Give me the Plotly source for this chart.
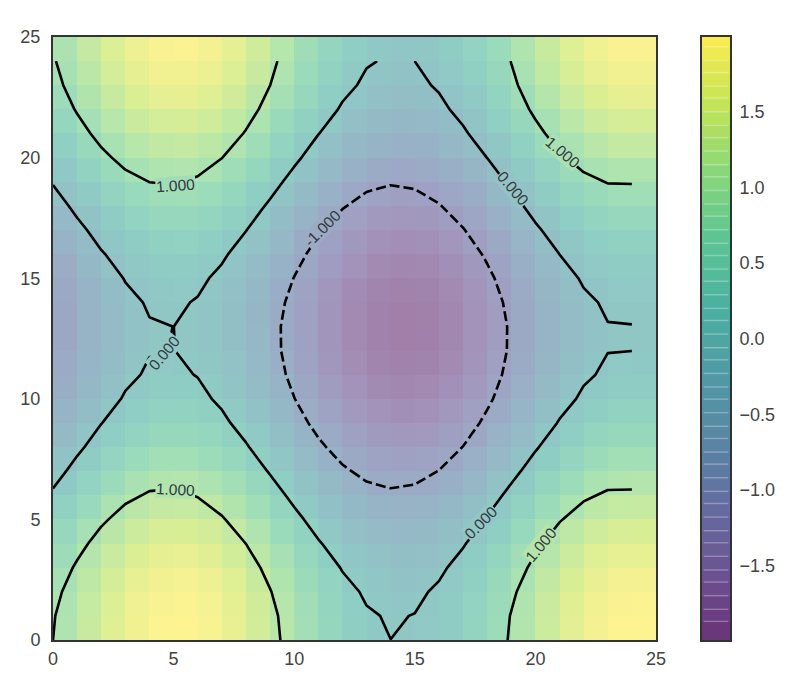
"""Filled grid with contour lines and a banded colour bar (Plotly HTML)."""

import plotly.graph_objects as go
from plotly.colors import sample_colorscale, unlabel_rgb

# one row per y index (0 at the bottom), one column per x index
z_rows = [
    [1.000, 1.327, 1.618, 1.841, 1.972, 1.995, 1.909, 1.723, 1.457, 1.141, 0.810, 0.499, 0.243, 0.070, 0.001, 0.041, 0.186, 0.423, 0.721, 1.050, 1.374, 1.657, 1.867, 1.983, 1.989],
    [0.969, 1.296, 1.587, 1.810, 1.941, 1.964, 1.878, 1.692, 1.426, 1.110, 0.779, 0.468, 0.212, 0.039, -0.030, 0.010, 0.155, 0.392, 0.690, 1.019, 1.343, 1.626, 1.836, 1.952, 1.958],
    [0.878, 1.205, 1.496, 1.719, 1.850, 1.873, 1.787, 1.601, 1.335, 1.019, 0.688, 0.377, 0.121, -0.052, -0.121, -0.081, 0.064, 0.301, 0.599, 0.928, 1.252, 1.535, 1.745, 1.861, 1.867],
    [0.732, 1.059, 1.350, 1.573, 1.704, 1.727, 1.641, 1.455, 1.189, 0.873, 0.542, 0.231, -0.025, -0.198, -0.267, -0.227, -0.082, 0.155, 0.453, 0.782, 1.106, 1.389, 1.599, 1.715, 1.721],
    [0.540, 0.867, 1.158, 1.381, 1.512, 1.535, 1.449, 1.263, 0.997, 0.681, 0.350, 0.039, -0.217, -0.390, -0.459, -0.419, -0.274, -0.037, 0.261, 0.590, 0.914, 1.197, 1.407, 1.523, 1.529],
    [0.315, 0.642, 0.933, 1.156, 1.287, 1.310, 1.224, 1.038, 0.772, 0.456, 0.125, -0.186, -0.442, -0.615, -0.684, -0.644, -0.499, -0.262, 0.036, 0.365, 0.689, 0.972, 1.182, 1.298, 1.304],
    [0.071, 0.398, 0.689, 0.912, 1.043, 1.066, 0.980, 0.794, 0.528, 0.212, -0.119, -0.430, -0.686, -0.859, -0.928, -0.888, -0.743, -0.506, -0.208, 0.121, 0.445, 0.728, 0.938, 1.054, 1.060],
    [-0.178, 0.149, 0.440, 0.663, 0.794, 0.817, 0.731, 0.545, 0.279, -0.037, -0.368, -0.679, -0.935, -1.108, -1.177, -1.137, -0.992, -0.755, -0.457, -0.128, 0.196, 0.479, 0.689, 0.805, 0.811],
    [-0.416, -0.089, 0.202, 0.425, 0.556, 0.579, 0.493, 0.307, 0.041, -0.275, -0.606, -0.917, -1.173, -1.346, -1.415, -1.375, -1.230, -0.993, -0.695, -0.366, -0.042, 0.241, 0.451, 0.567, 0.573],
    [-0.628, -0.301, -0.010, 0.213, 0.344, 0.367, 0.281, 0.095, -0.171, -0.487, -0.818, -1.129, -1.385, -1.558, -1.627, -1.587, -1.442, -1.205, -0.907, -0.578, -0.254, 0.029, 0.239, 0.355, 0.361],
    [-0.801, -0.474, -0.183, 0.040, 0.171, 0.194, 0.108, -0.078, -0.344, -0.660, -0.991, -1.302, -1.558, -1.731, -1.800, -1.760, -1.615, -1.378, -1.080, -0.751, -0.427, -0.144, 0.066, 0.182, 0.188],
    [-0.924, -0.597, -0.306, -0.083, 0.048, 0.071, -0.015, -0.201, -0.467, -0.783, -1.114, -1.425, -1.681, -1.854, -1.923, -1.883, -1.738, -1.501, -1.203, -0.874, -0.550, -0.267, -0.057, 0.059, 0.065],
    [-0.990, -0.663, -0.372, -0.149, -0.018, 0.005, -0.081, -0.267, -0.533, -0.849, -1.180, -1.491, -1.747, -1.920, -1.989, -1.949, -1.804, -1.567, -1.269, -0.940, -0.616, -0.333, -0.123, -0.007, -0.001],
    [-0.994, -0.667, -0.376, -0.153, -0.022, 0.001, -0.085, -0.271, -0.537, -0.853, -1.184, -1.495, -1.751, -1.924, -1.993, -1.953, -1.808, -1.571, -1.273, -0.944, -0.620, -0.337, -0.127, -0.011, -0.005],
    [-0.936, -0.609, -0.318, -0.095, 0.036, 0.059, -0.027, -0.213, -0.479, -0.795, -1.126, -1.437, -1.693, -1.866, -1.935, -1.895, -1.750, -1.513, -1.215, -0.886, -0.562, -0.279, -0.069, 0.047, 0.053],
    [-0.821, -0.494, -0.203, 0.020, 0.151, 0.174, 0.088, -0.098, -0.364, -0.680, -1.011, -1.322, -1.578, -1.751, -1.820, -1.780, -1.635, -1.398, -1.100, -0.771, -0.447, -0.164, 0.046, 0.162, 0.168],
    [-0.654, -0.327, -0.036, 0.187, 0.318, 0.341, 0.255, 0.069, -0.197, -0.513, -0.844, -1.155, -1.411, -1.584, -1.653, -1.613, -1.468, -1.231, -0.933, -0.604, -0.280, 0.003, 0.213, 0.329, 0.335],
    [-0.446, -0.119, 0.172, 0.395, 0.526, 0.549, 0.463, 0.277, 0.011, -0.305, -0.636, -0.947, -1.203, -1.376, -1.445, -1.405, -1.260, -1.023, -0.725, -0.396, -0.072, 0.211, 0.421, 0.537, 0.543],
    [-0.211, 0.116, 0.407, 0.630, 0.761, 0.784, 0.698, 0.512, 0.246, -0.070, -0.401, -0.712, -0.968, -1.141, -1.210, -1.170, -1.025, -0.788, -0.490, -0.161, 0.163, 0.446, 0.656, 0.772, 0.778],
    [0.034, 0.361, 0.652, 0.875, 1.006, 1.029, 0.943, 0.757, 0.491, 0.175, -0.156, -0.467, -0.723, -0.896, -0.965, -0.925, -0.780, -0.543, -0.245, 0.084, 0.408, 0.691, 0.901, 1.017, 1.023],
    [0.284, 0.611, 0.902, 1.125, 1.256, 1.279, 1.193, 1.007, 0.741, 0.425, 0.094, -0.217, -0.473, -0.646, -0.715, -0.675, -0.530, -0.293, 0.005, 0.334, 0.658, 0.941, 1.151, 1.267, 1.273],
    [0.512, 0.839, 1.130, 1.353, 1.484, 1.507, 1.421, 1.235, 0.969, 0.653, 0.322, 0.011, -0.245, -0.418, -0.487, -0.447, -0.302, -0.065, 0.233, 0.562, 0.886, 1.169, 1.379, 1.495, 1.501],
    [0.709, 1.036, 1.327, 1.550, 1.681, 1.704, 1.618, 1.432, 1.166, 0.850, 0.519, 0.208, -0.048, -0.221, -0.290, -0.250, -0.105, 0.132, 0.430, 0.759, 1.083, 1.366, 1.576, 1.692, 1.698],
    [0.861, 1.188, 1.479, 1.702, 1.833, 1.856, 1.770, 1.584, 1.318, 1.002, 0.671, 0.360, 0.104, -0.069, -0.138, -0.098, 0.047, 0.284, 0.582, 0.911, 1.235, 1.518, 1.728, 1.844, 1.850],
    [0.960, 1.287, 1.578, 1.801, 1.932, 1.955, 1.869, 1.683, 1.417, 1.101, 0.770, 0.459, 0.203, 0.030, -0.039, 0.001, 0.146, 0.383, 0.681, 1.010, 1.334, 1.617, 1.827, 1.943, 1.949],
]

z_min = -1.993
z_max = 1.995
contour_levels = [-1, 0, 1]
xy_ticks = [0, 5, 10, 15, 20, 25]
bar_ticks = [-1.5, -1.0, -0.5, 0.0, 0.5, 1.0, 1.5]

# where the pale seams sit on the colour bar, top to bottom
bar_seams = [
    1.93, 1.84, 1.76, 1.67, 1.59, 1.50, 1.41, 1.33, 1.24, 1.15, 1.07, 0.98, 0.89, 0.81, 0.72,
    0.63, 0.55, 0.46, 0.38, 0.29, 0.20, 0.12, 0.03, -0.06, -0.14, -0.23, -0.32, -0.40, -0.49,
    -0.58, -0.66, -0.75, -0.83, -0.92, -1.01, -1.09, -1.18, -1.27, -1.35, -1.44, -1.53, -1.61,
    -1.70, -1.79, -1.87,
]

label_text = ["1.000", "1.000", "0.000", "-1.000", "1.000", "0.000", "0.000", "1.000"]
label_x = [5.06, 5.06, 4.64, 11.15, 21.14, 19.07, 17.74, 20.23]
label_y = [18.86, 6.26, 11.9, 17.08, 20.2, 18.7, 4.89, 3.98]
label_angle = [-4, 3, -50, -45, 40, 50, -45, -50]

DARK = "#333333"
TICK_FONT = dict(family="Liberation Sans, Arial, sans-serif", size=18, color="#444444")


def patch_colour(x, y):
    """Mean colour of the half-transparent cells around a point, as seen on white."""
    ts = []
    for j in (int(y) - 1, int(y), int(y) + 1):
        for i in (int(x) - 1, int(x), int(x) + 1):
            ts.append((z_rows[j][i] - z_min) / (z_max - z_min))
    rgb = [unlabel_rgb(c) for c in sample_colorscale("Viridis", ts, colortype="rgb")]
    mean = [sum(c[k] for c in rgb) / len(rgb) for k in range(3)]
    return "rgb({:.0f},{:.0f},{:.0f})".format(*[(c + 255) / 2 for c in mean])


fig = go.Figure()

fig.add_trace(
    go.Heatmap(
        z=z_rows,
        x0=0.5,
        dx=1,
        y0=0.5,
        dy=1,
        zmin=z_min,
        zmax=z_max,
        colorscale="Viridis",
        opacity=0.5,
        showscale=False,
        hoverinfo="skip",
    )
)

# one trace per level, the negative level is dashed
for level in contour_levels:
    fig.add_trace(
        go.Contour(
            z=z_rows,
            x0=0,
            dx=1,
            y0=0,
            dy=1,
            autocontour=False,
            contours=dict(start=level, end=level, size=1, coloring="none"),
            line=dict(color="#000000", width=2.6, smoothing=0, dash="10px,4px" if level < 0 else "solid"),
            showscale=False,
            hoverinfo="skip",
        )
    )

for text, x, y, angle in zip(label_text, label_x, label_y, label_angle):
    fig.add_annotation(
        x=x,
        y=y,
        text=text,
        textangle=angle,
        showarrow=False,
        bgcolor=patch_colour(x, y),
        borderpad=0,
        font=dict(family="Liberation Sans, Arial, sans-serif", size=15.5, color="#333a3f"),
    )

# colour bar as its own small axes
bar_edges = [z_min] + bar_seams[::-1] + [z_max]
bar_mids = [(a + b) / 2 for a, b in zip(bar_edges[:-1], bar_edges[1:])]
fig.add_trace(
    go.Heatmap(
        z=[[m] for m in bar_mids],
        x=[0, 1],
        y=bar_edges,
        zmin=z_min,
        zmax=z_max,
        colorscale="Viridis",
        opacity=0.8,
        showscale=False,
        hoverinfo="skip",
        xaxis="x2",
        yaxis="y2",
    )
)
seam_x, seam_y = [], []
for v in bar_seams:
    seam_x += [0.06, 0.94, None]
    seam_y += [v, v, None]
fig.add_trace(
    go.Scatter(
        x=seam_x,
        y=seam_y,
        mode="lines",
        line=dict(color="rgba(255,255,255,0.3)", width=1.4),
        hoverinfo="skip",
        showlegend=False,
        xaxis="x2",
        yaxis="y2",
    )
)

frame = dict(
    showline=True, linecolor=DARK, linewidth=2, mirror=True, showgrid=False, zeroline=False, ticks="", automargin=False
)

fig.update_layout(
    width=806,
    height=694,
    margin=dict(l=0, r=0, t=0, b=0),
    paper_bgcolor="white",
    plot_bgcolor="white",
    showlegend=False,
    xaxis=dict(
        frame,
        domain=[53 / 806, 656 / 806],
        range=[0, 25],
        tickvals=xy_ticks,
        tickfont=TICK_FONT,
        ticklabelstandoff=1,
        anchor="y",
    ),
    yaxis=dict(
        frame,
        domain=[1 - 640 / 694, 1 - 37 / 694],
        range=[0, 25],
        tickvals=xy_ticks,
        tickfont=TICK_FONT,
        ticklabelstandoff=7,
        anchor="x",
    ),
    xaxis2=dict(
        frame,
        domain=[702 / 806, 730 / 806],
        range=[0, 1],
        showticklabels=False,
        anchor="y2",
    ),
    yaxis2=dict(
        frame,
        domain=[1 - 640 / 694, 1 - 37 / 694],
        range=[z_min, z_max],
        side="right",
        tickvals=bar_ticks,
        ticktext=["\u22121.5", "\u22121.0", "\u22120.5", "0.0", "0.5", "1.0", "1.5"],
        tickfont=TICK_FONT,
        ticklabelstandoff=4,
        anchor="x2",
    ),
)

fig.write_html("out.html", config=dict(displayModeBar=False), post_script="document.body.style.margin='0';")
